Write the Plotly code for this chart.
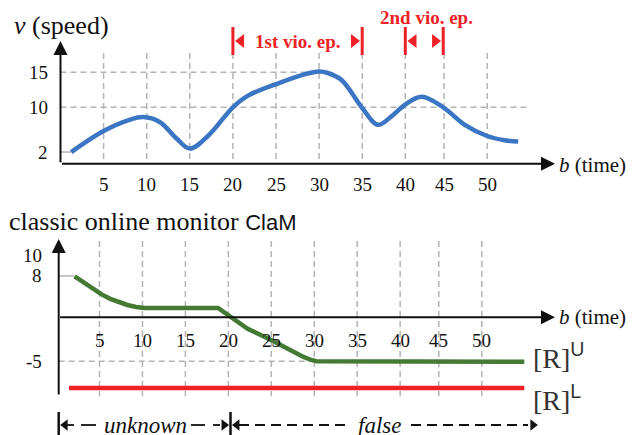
import plotly.graph_objects as go

# ---------------- data (in axis units) ----------------
speed_t = [1.25, 5, 8, 9.6, 11.5, 13.5, 15, 17.1, 20, 21.8, 25, 28, 30, 31, 32.6, 35, 36.8, 38.4, 40, 41.9, 44.4, 46.9, 49.5, 51.5, 53.1]
speed_v = [3.6, 6.6, 8.2, 8.6, 7.9, 5.5, 4.1, 5.9, 10, 11.7, 13.3, 14.6, 15.1, 14.9, 13.9, 9.9, 7.5, 8.7, 10.4, 11.5, 10.0, 7.5, 5.9, 5.3, 5.1]

upper_t = [1.86, 3.0, 4.0, 5.0, 6.0, 7.0, 8.0, 9.0, 10.0, 18.55, 20.1, 22.0, 25.0, 27.0, 28.5, 29.4, 30.0, 54.2]
upper_v = [4.66, 3.9, 3.2, 2.6, 2.1, 1.7, 1.4, 1.18, 1.06, 1.06, 0.0, -1.3, -2.73, -3.8, -4.5, -4.85, -5.0, -5.05]

lower_t = [1.2, 54.2]
lower_v = [-8.03, -8.03]

x_tick_vals = [5, 10, 15, 20, 25, 30, 35, 40, 44.5, 49.5]
x_tick_text = ["5", "10", "15", "20", "25", "30", "35", "40", "45", "50"]

top_y_vals = [3.6, 10, 15]
top_y_text = ["2", "10", "15"]
bot_y_vals = [6.97, 4.7, -5]
bot_y_text = ["10", "8", "-5"]

viol1 = [20, 35]
viol2 = [40, 44.4]
unknown_span = [0, 20]
false_span = [20, 55.8]

# ---------------- styling ----------------
W, H = 643, 435
SERIF = "Liberation Serif"
BLUE = "#3a76c3"
GREEN = "#447a33"
RED = "#ee2226"
GRID = "#b4b4b4"
INK = "#111111"

# top: px = 52.5 + 8.62*x ; py = 99.3 - 7*(v-10)
tx0, tsx = 52.5, 8.62
top_xr = [-tx0 / tsx, (W - tx0) / tsx]
top_py_bottom = 155.7
top_yr = [10 - (top_py_bottom - 99.3) / 7, 10 + 99.3 / 7]
# bottom: px = 50.7 + 8.59*x ; py = 309.3 - 8.8*v
bx0, bsx = 50.7, 8.59
bot_xr = [-bx0 / bsx, (W - bx0) / bsx]
bot_yr = [-(H - 309.3) / 8.8, -(200 - 309.3) / 8.8]

def vtop(py):
    return 10 - (py - 99.3) / 7

def vbot(py):
    return -(py - 309.3) / 8.8

def xtop(px):
    return (px - tx0) / tsx

def xbot(px):
    return (px - bx0) / bsx

fig = go.Figure()

fig.add_trace(go.Scatter(x=speed_t, y=speed_v, mode="lines", xaxis="x", yaxis="y",
                         line=dict(color=BLUE, width=4.5, shape="spline", smoothing=1.0),
                         hoverinfo="skip"))
fig.add_trace(go.Scatter(x=upper_t, y=upper_v, mode="lines", xaxis="x2", yaxis="y2",
                         line=dict(color=GREEN, width=4.5), hoverinfo="skip"))
fig.add_trace(go.Scatter(x=lower_t, y=lower_v, mode="lines", xaxis="x2", yaxis="y2",
                         line=dict(color=RED, width=4.5), hoverinfo="skip"))

shapes = []
DASH = "6px,4px"

# gridlines top
for xv in x_tick_vals:
    shapes.append(dict(type="line", xref="x", yref="y", x0=xv, x1=xv, y0=vtop(45), y1=top_yr[0],
                       line=dict(color=GRID, width=1.5, dash=DASH), layer="below"))
shapes.append(dict(type="line", xref="x", yref="y", x0=0, x1=30, y0=15, y1=15,
                   line=dict(color=GRID, width=1.5, dash=DASH), layer="below"))
shapes.append(dict(type="line", xref="x", yref="y", x0=0, x1=xtop(521.7), y0=10, y1=10,
                   line=dict(color=GRID, width=1.5, dash=DASH), layer="below"))
shapes.append(dict(type="line", xref="x", yref="y", x0=0, x1=1.25, y0=3.6, y1=3.6,
                   line=dict(color=GRID, width=1.5), layer="below"))
# gridlines bottom
for xv in x_tick_vals:
    shapes.append(dict(type="line", xref="x2", yref="y2", x0=xv - 0.25, x1=xv - 0.25, y0=vbot(233), y1=vbot(388.3),
                       line=dict(color=GRID, width=1.5, dash=DASH), layer="below"))
shapes.append(dict(type="line", xref="x2", yref="y2", x0=0, x1=1.86, y0=4.7, y1=4.7,
                   line=dict(color=GRID, width=1.5), layer="below"))
shapes.append(dict(type="line", xref="x2", yref="y2", x0=0, x1=30, y0=-5, y1=-5,
                   line=dict(color=GRID, width=1.5, dash=DASH), layer="below"))

# violation episode brackets
ytop_bar, ybot_bar = vtop(19), vtop(47)
ymid = vtop(33)
for a, b in (viol1, viol2):
    for xv in (a, b):
        shapes.append(dict(type="line", xref="x", yref="y", x0=xv, x1=xv, y0=ybot_bar, y1=ytop_bar,
                           line=dict(color=RED, width=3)))
fig.add_trace(go.Scatter(x=[viol1[0] + 0.95, viol2[0] + 0.95], y=[ymid, ymid], mode="markers",
                         xaxis="x", yaxis="y", marker=dict(symbol="triangle-left", size=12, color=RED),
                         hoverinfo="skip"))
fig.add_trace(go.Scatter(x=[viol1[1] - 0.95, viol2[1] - 0.95], y=[ymid, ymid], mode="markers",
                         xaxis="x", yaxis="y", marker=dict(symbol="triangle-right", size=12, color=RED),
                         hoverinfo="skip"))

# verdict spans at bottom
yv = vbot(417)
for xv in (unknown_span[0], unknown_span[1]):
    shapes.append(dict(type="line", xref="x2", yref="y2", x0=xv, x1=xv, y0=vbot(404), y1=vbot(433),
                       line=dict(color=INK, width=2.5)))
for p0, p1 in ((58, 66), (73, 88), (183, 197), (205, 212)):
    shapes.append(dict(type="line", xref="x2", yref="y2", x0=xbot(p0), x1=xbot(p1), y0=yv, y1=yv,
                       line=dict(color=INK, width=1.8)))
shapes.append(dict(type="line", xref="x2", yref="y2", x0=xbot(231), x1=xbot(340), y0=yv, y1=yv,
                   line=dict(color=INK, width=1.8, dash="10px,6px")))
shapes.append(dict(type="line", xref="x2", yref="y2", x0=xbot(403), x1=xbot(520), y0=yv, y1=yv,
                   line=dict(color=INK, width=1.8, dash="10px,6px")))
fig.add_trace(go.Scatter(x=[unknown_span[0] + 0.75, unknown_span[1] + 0.75], y=[yv, yv], mode="markers",
                         xaxis="x2", yaxis="y2",
                         marker=dict(symbol="triangle-left", size=10, color=INK), hoverinfo="skip"))
fig.add_trace(go.Scatter(x=[unknown_span[1] - 0.75, false_span[1] - 0.6], y=[yv, yv], mode="markers",
                         xaxis="x2", yaxis="y2",
                         marker=dict(symbol="triangle-right", size=10, color=INK), hoverinfo="skip"))

fig.update_layout(
    width=W, height=H, margin=dict(l=0, r=0, t=0, b=0),
    paper_bgcolor="white", plot_bgcolor="white", showlegend=False,
    font=dict(family=SERIF, color=INK),
    shapes=shapes,
)

# axes arrows
def arrow(xref, yref, x0, y0, x1, y1, color=INK, width=2):
    fig.add_annotation(xref=xref, yref=yref, axref=xref, ayref=yref, x=x1, y=y1, ax=x0, ay=y0,
                       text="", showarrow=True, arrowhead=2, arrowsize=1.4, arrowwidth=width,
                       arrowcolor=color)

def label(xref, yref, x, y, text, size, color=INK, xanchor="center"):
    fig.add_annotation(xref=xref, yref=yref, x=x, y=y, xanchor=xanchor, yanchor="middle", text=text,
                       showarrow=False, font=dict(family=SERIF, size=size, color=color))

label("paper", "paper", 4 / W, 1 - 17 / H, "<i>v</i> (speed)", 26, xanchor="left")
label("paper", "paper", -1 / W, 1 - 213 / H,
      "classic online monitor <span style='font-family:Liberation Sans;font-size:22px'>ClaM</span>", 26,
      xanchor="left")
for py in (157, 309):
    label("paper", "paper", 549 / W, 1 - py / H, "<i>b</i> (time)", 21, xanchor="left")
label("x2", "y2", xbot(137), yv, "<i>unknown</i>", 23)
label("x2", "y2", xbot(371), yv, "<i>false</i>", 23)
label("x", "y", (viol1[0] + viol1[1]) / 2, ymid, "<b>1st vio. ep.</b>", 19, RED)
label("x", "y", (viol2[0] + viol2[1]) / 2 + 0.3, vtop(9), "<b>2nd vio. ep.</b>", 19, RED)
for py, sup in ((348, "U"), (390, "L")):
    label("paper", "paper", 523 / W, 1 - py / H,
          "[R]<sup><span style='font-family:Liberation Sans'>" + sup + "</span></sup>", 28, "#333333",
          xanchor="left")

# tick labels at the axis tick values
for xv, t in zip(x_tick_vals, x_tick_text):
    label("x", "paper", xv, 1 - 176 / H, t, 19)
    label("x2", "y2", xv - 0.25, vbot(332), t, 19)
for yv_, t in zip(top_y_vals, top_y_text):
    label("x", "y", xtop(42), yv_, t, 19, xanchor="right")
for yv_, t in zip(bot_y_vals, bot_y_text):
    label("x2", "y2", xbot(36), yv_, t, 19, xanchor="right")

arrow("x", "y", 0, top_yr[0], xtop(547), top_yr[0])
arrow("x", "y", 0, top_yr[0], 0, vtop(33))
arrow("x2", "y2", 0, 0, xbot(547), 0)
arrow("x2", "y2", 0, vbot(388), 0, vbot(231))

axis_common = dict(showgrid=False, zeroline=False, showline=False, showticklabels=False, ticks="",
                   fixedrange=True)
fig.update_layout(
    xaxis=dict(domain=[0, 1], range=top_xr, anchor="y", **axis_common),
    yaxis=dict(domain=[1 - top_py_bottom / H, 1], range=top_yr, anchor="x", **axis_common),
    xaxis2=dict(domain=[0, 1], range=bot_xr, anchor="y2", **axis_common),
    yaxis2=dict(domain=[0, 1 - 200 / H], range=bot_yr, anchor="x2", **axis_common),
)

fig.write_html("out.html")
